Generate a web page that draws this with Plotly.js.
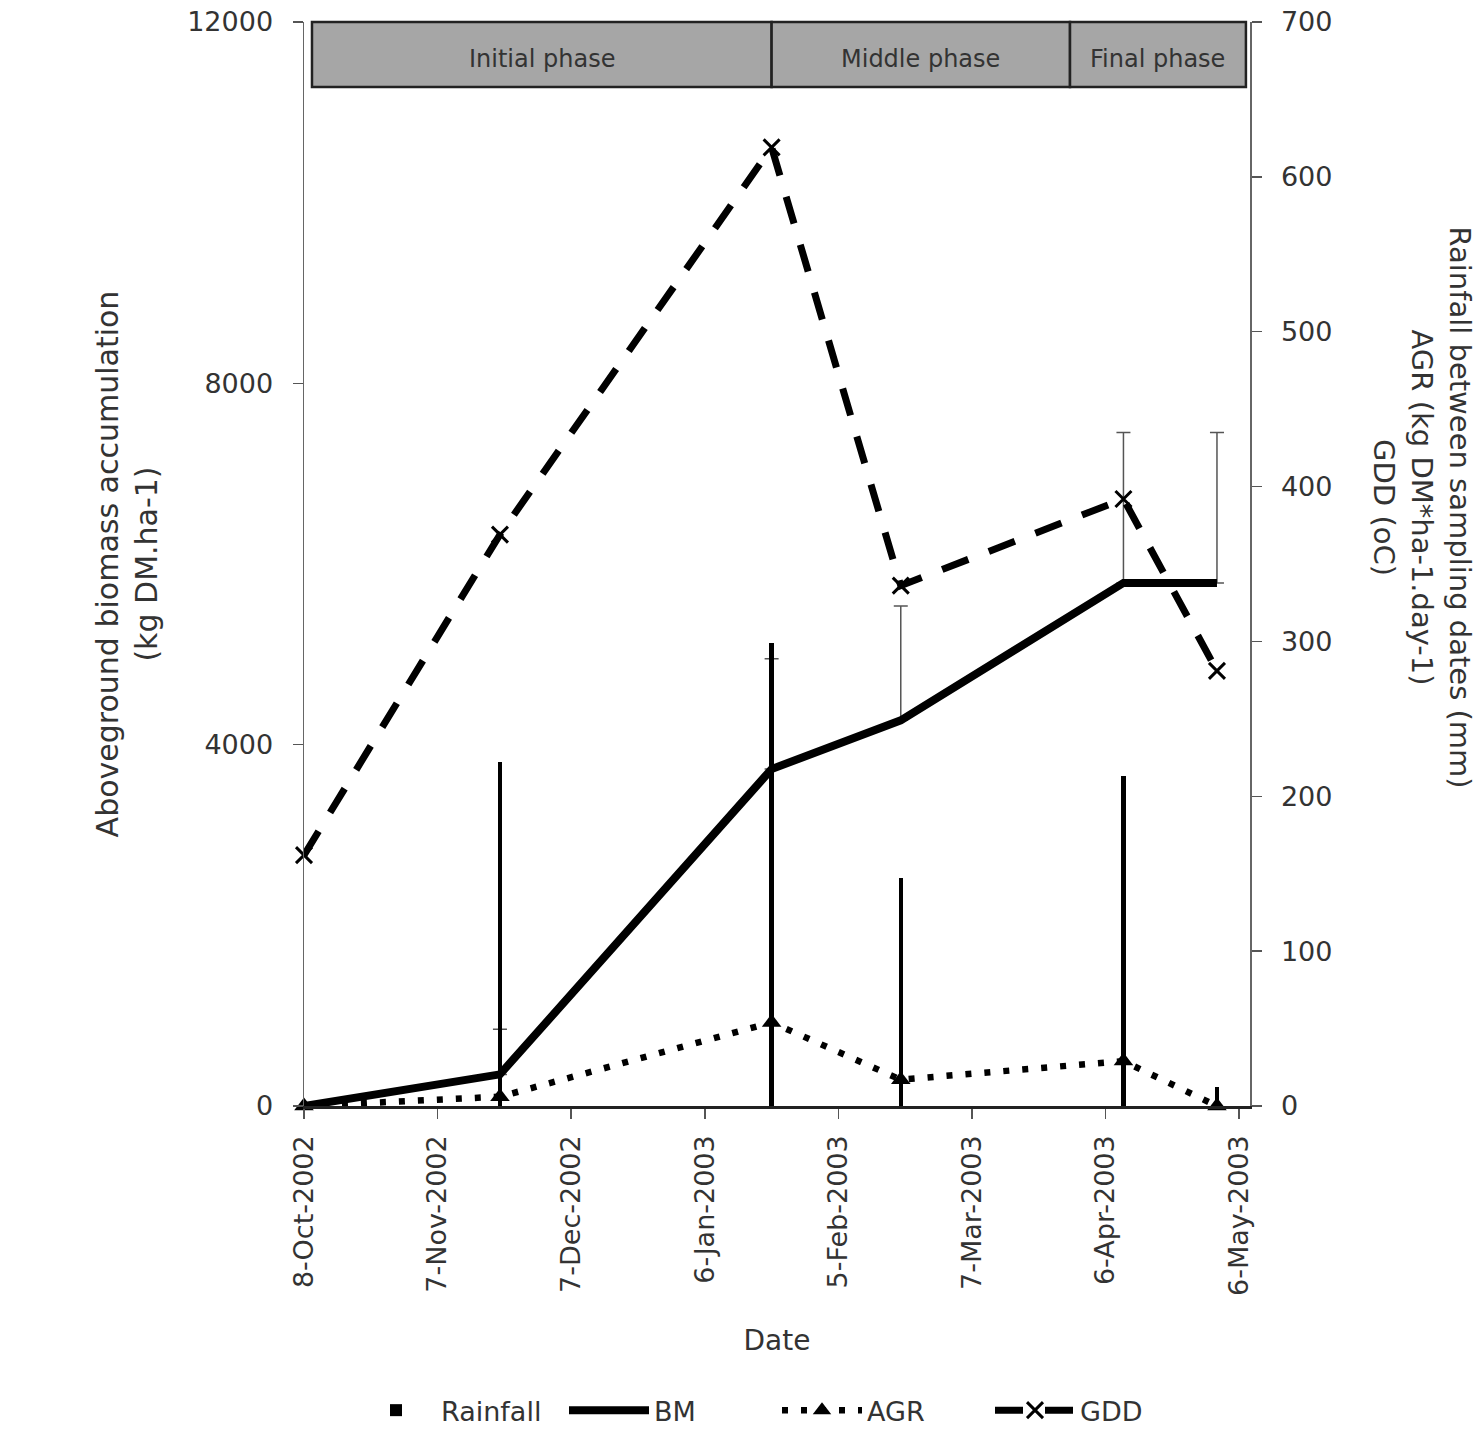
<!DOCTYPE html>
<html>
<head>
<meta charset="utf-8">
<script src="https://cdn.plot.ly/plotly-3.0.1.min.js"></script>
<style>html,body{margin:0;padding:0;background:#fff;}</style>
</head>
<body>
<div id="chart" style="width:1482px;height:1436px;"></div>
<script>
// ---- data ----
const samplingDates = ['2002-10-08', '2002-11-21', '2003-01-21', '2003-02-19', '2003-04-10', '2003-05-01'];
const rainfall   = [0, 222, 299, 147, 213, 12];        // mm, right axis
const biomass    = [0, 350, 3730, 4270, 5790, 5790];   // kg DM/ha, left axis
const biomassErr = [0, 500, 1220, 1265, 1665, 1665];   // upper error
const agr        = [0, 6, 54, 17, 29, 0];              // kg DM/ha/day, right axis
const gdd        = [162, 369, 619, 336, 392, 281];     // oC, right axis

const phaseNames  = ['Initial phase', 'Middle phase', 'Final phase'];
const phaseStarts = ['2002-10-09 19:00', '2003-01-21', '2003-03-29'];
const phaseEnds   = ['2003-01-21', '2003-03-29', '2003-05-07 12:00'];

const xTickVals = ['2002-10-08', '2002-11-07', '2002-12-07', '2003-01-06', '2003-02-05', '2003-03-07', '2003-04-06', '2003-05-06'];
const xTickText = ['8-Oct-2002', '7-Nov-2002', '7-Dec-2002', '6-Jan-2003', '5-Feb-2003', '7-Mar-2003', '6-Apr-2003', '6-May-2003'];

const DAY = 86400000;
const FONT = '"DejaVu Sans", "Open Sans", sans-serif';
const TXT = '#333333';

const traces = [
  {
    type: 'bar', name: 'Rainfall', x: samplingDates, y: rainfall, yaxis: 'y2',
    width: DAY * 1.0, marker: {color: '#000000'}
  },
  {
    type: 'scatter', mode: 'lines', name: 'BM', x: samplingDates, y: biomass, yaxis: 'y',
    line: {color: '#000000', width: 8},
    error_y: {type: 'data', symmetric: false, array: biomassErr, arrayminus: biomassErr.map(() => 0),
              color: '#555555', thickness: 1.5, width: 7},
    cliponaxis: false
  },
  {
    type: 'scatter', mode: 'lines+markers', name: 'AGR', x: samplingDates, y: agr, yaxis: 'y2',
    line: {color: '#000000', width: 6.5, dash: '6px,13px'},
    marker: {symbol: 'triangle-up', size: 17, color: '#000000'},
    cliponaxis: false
  },
  {
    type: 'scatter', mode: 'lines+markers', name: 'GDD', x: samplingDates, y: gdd, yaxis: 'y2',
    line: {color: '#000000', width: 7, dash: '28px,22px'},
    marker: {symbol: 'x-thin-open', size: 16, color: '#000000', line: {color: '#000000', width: 3}},
    cliponaxis: false
  }
];

const shapes = phaseNames.map((n, i) => ({
  type: 'rect', xref: 'x', yref: 'paper',
  x0: phaseStarts[i], x1: phaseEnds[i], y0: 0.94, y1: 1.0,
  fillcolor: '#a6a6a6', line: {color: '#222222', width: 2.5}, layer: 'above'
}));

const annotations = phaseNames.map((n, i) => {
  const t0 = new Date(phaseStarts[i].replace(' ', 'T') + 'Z').getTime();
  const t1 = new Date(phaseEnds[i].replace(' ', 'T') + 'Z').getTime();
  const iso = new Date((t0 + t1) / 2).toISOString().slice(0, 19).replace('T', ' ');
  return {
    text: n, xref: 'x', yref: 'paper', x: iso, y: 0.966, showarrow: false,
    xanchor: 'center', yanchor: 'middle', font: {family: FONT, size: 24, color: TXT}
  };
});

annotations.push({
  text: 'Rainfall between sampling dates (mm)<br>AGR (kg DM*ha-1.day-1)<br>GDD (oC)',
  xref: 'paper', yref: 'paper', x: 1.182, y: 0.552, textangle: 90,
  showarrow: false, xanchor: 'center', yanchor: 'middle', align: 'center',
  font: {family: FONT, size: 29, color: TXT}
});

const layout = {
  width: 1482, height: 1436,
  margin: {l: 304, r: 232, t: 22, b: 330, autoexpand: false},
  paper_bgcolor: '#ffffff', plot_bgcolor: '#ffffff',
  font: {family: FONT, size: 27, color: TXT},
  showlegend: true,
  legend: {orientation: 'h', x: 0.5, xanchor: 'center', y: -0.281, yanchor: 'middle',
           itemwidth: 80, entrywidth: 118, entrywidthmode: 'pixels',
           font: {family: FONT, size: 27, color: TXT}, traceorder: 'normal'},
  hovermode: false,
  xaxis: {
    type: 'date', range: ['2002-10-08', '2003-05-08 10:00'], automargin: false,
    tickmode: 'array', tickvals: xTickVals, ticktext: xTickText, tickangle: -90,
    ticks: 'outside', ticklen: 10, tickwidth: 1.5, tickcolor: '#555', ticklabelstandoff: 6,
    showline: true, linecolor: '#222', linewidth: 2.5,
    showgrid: false, zeroline: false,
    tickfont: {family: FONT, size: 27, color: TXT},
    title: {text: 'Date', font: {family: FONT, size: 28, color: TXT}, standoff: 36}
  },
  yaxis: {
    range: [0, 12000], tick0: 0, dtick: 4000, tickformat: 'd', automargin: false,
    ticks: 'outside', ticklen: 10, tickwidth: 1.5, tickcolor: '#555', ticklabelstandoff: 14,
    showline: true, linecolor: '#666', linewidth: 1.5,
    showgrid: false, zeroline: false,
    tickfont: {family: FONT, size: 27, color: TXT},
    title: {text: 'Aboveground biomass accumulation<br>(kg DM.ha-1)', font: {family: FONT, size: 30, color: TXT}, standoff: 20}
  },
  yaxis2: {
    overlaying: 'y', side: 'right', range: [0, 700], tick0: 0, dtick: 100, automargin: false,
    ticks: 'outside', ticklen: 10, tickwidth: 1.5, tickcolor: '#555', ticklabelstandoff: 14,
    showline: true, linecolor: '#666', linewidth: 1.5,
    showgrid: false, zeroline: false,
    tickfont: {family: FONT, size: 27, color: TXT}
  },
  shapes: shapes,
  annotations: annotations,
  bargap: 0
};

Plotly.newPlot('chart', traces, layout, {displayModeBar: false, staticPlot: true});
</script>
</body>
</html>
